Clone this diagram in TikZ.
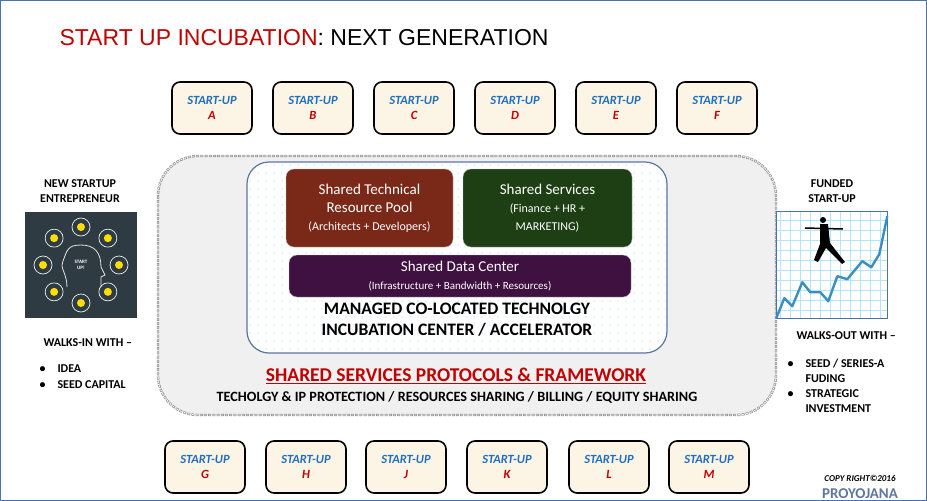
\documentclass[tikz,border=0pt]{standalone}
\usepackage{fontspec}
\setmainfont{Carlito}
\newfontfamily\arialf{Liberation Sans}
\definecolor{sblue}{HTML}{1F6FC0}
\definecolor{sred}{HTML}{C00000}
\definecolor{cream}{HTML}{FCF4E4}
\definecolor{brownb}{HTML}{7A2817}
\definecolor{greenb}{HTML}{1D3F13}
\definecolor{purpb}{HTML}{3E1141}
\definecolor{frameb}{HTML}{4A72B0}
\definecolor{chalk}{HTML}{2F3B42}
\begin{document}
\begin{tikzpicture}[x=1pt,y=-1pt,
  su/.style={draw=black,line width=1.6pt,rounded corners=8pt,fill=cream,minimum width=80pt,minimum height=52pt,align=center,font=\bfseries\itshape\fontsize{12.5}{14}\selectfont},
  svc/.style={draw=gray!60,rounded corners=8pt,text=white,align=center,font=\fontsize{15}{18}\selectfont,inner sep=0pt},
  lbl/.style={font=\bfseries\fontsize{12}{15}\selectfont,align=center},
  ]
\useasboundingbox (0,0) rectangle (927,501);
\draw[frameb,line width=1.2pt] (0.6,0.6) rectangle (926.4,500.4);
\node[anchor=base west,font=\arialf\fontsize{23}{26}\selectfont] (title) at (56,45) {\textcolor{sred}{START UP INCUBATION}: NEXT GENERATION};
% startups
\foreach \n/\x/\l in {a/212/A,b/313/B,c/414/C,d/515/D,e/616/E,f/717/F}{
  \node[su] (s\n) at (\x,108) {\textcolor{sblue}{START-UP}\\[1pt]\textcolor{sred}{\l}};}
\foreach \n/\x/\l in {g/205/G,h/306/H,j/406/J,k/507/K,l/609/L,m/709/M}{
  \node[su] (s\n) at (\x,467) {\textcolor{sblue}{START-UP}\\[1pt]\textcolor{sred}{\l}};}
% outer container
\path[fill=gray!12,rounded corners=40pt] (158,156) rectangle (776,415);
\draw[gray!85,line width=2.4pt,dash pattern=on 3pt off 1.2pt,rounded corners=40pt] (158,156) rectangle (776,415);
\draw[white,line width=0.9pt,dash pattern=on 1.8pt off 2.4pt,dash phase=-0.6pt,rounded corners=40pt] (158,156) rectangle (776,415);
% inner
\path[fill=white,rounded corners=22pt] (247,162) rectangle (667,353);
\begin{scope}
\clip[rounded corners=22pt] (247,162) rectangle (667,353);
\foreach \i in {0,...,52}{\foreach \j in {0,...,24}{
  \fill[cyan!45] (250+\i*8,165+\j*8) circle (0.7);}}
\end{scope}
\draw[draw=frameb!70!gray,line width=1.2pt,rounded corners=22pt] (247,162) rectangle (667,353);
\node[svc,fill=brownb,minimum width=167pt,minimum height=78pt] (pool) at (369.5,208) {Shared Technical\\Resource Pool\\{\fontsize{12}{15}\selectfont(Architects + Developers)}};
\node[svc,fill=greenb,minimum width=169pt,minimum height=78pt] (serv) at (547.5,208) {Shared Services\\{\fontsize{12}{15}\selectfont(Finance + HR +}\\{\fontsize{12}{15}\selectfont MARKETING)}};
\node[svc,fill=purpb,minimum width=342pt,minimum height=42pt] (dc) at (460,276) {Shared Data Center\\{\fontsize{11}{14}\selectfont(Infrastructure + Bandwidth + Resources)}};
\node[font=\bfseries\fontsize{17.5}{21}\selectfont,align=center] (mgd) at (457,320) {MANAGED CO-LOCATED TECHNOLGY\\INCUBATION CENTER / ACCELERATOR};
\node[font=\bfseries\fontsize{19.5}{22}\selectfont,text=sred] (ssp) at (456,376) {\underline{SHARED SERVICES PROTOCOLS \& FRAMEWORK}};
\node[font=\bfseries\fontsize{14.2}{16}\selectfont] (tech) at (457,397) {TECHOLGY \& IP PROTECTION / RESOURCES SHARING / BILLING / EQUITY SHARING};
% left
\node[lbl] (nse) at (80,191) {NEW STARTUP\\ENTREPRENEUR};
\node[fill=chalk,minimum width=112pt,minimum height=106pt,inner sep=0pt] (img1) at (81,265) {};
\draw[white!80!gray,line width=0.8pt] (img1.center) ++(-14,22) .. controls +(0,-14) and +(-4,6) .. ++(-4,-26) .. controls +(4,-10) and +(-14,0) .. ++(18,-16) .. controls +(14,0) and +(0,-14) .. ++(20,22) -- ++(4,8) -- ++(-4,2) -- ++(0,10);
\node[white,font=\bfseries\fontsize{5}{6}\selectfont,align=center] at (img1.center) {START\\UP!};
\foreach \a in {90,135,180,225,270,315,0,45}{
  \draw[white!85!gray,line width=0.7pt] (img1.center) ++(\a:38) circle (9);
  \fill[yellow!80!orange] (img1.center) ++(\a:38) circle (4);}
\node[lbl,anchor=base west] (wi) at (40,346) {WALKS-IN WITH --};
\node[lbl,anchor=base west,align=left] (wil) at (36,372) {\textbullet\hspace{12pt}IDEA};
\node[lbl,anchor=base west,align=left] (wil2) at (36,388) {\textbullet\hspace{12pt}SEED CAPITAL};
% right
\node[lbl] (fs) at (832,191) {FUNDED\\START-UP};
\node[fill=white,minimum width=111pt,minimum height=106pt,inner sep=0pt] (img2) at (832,265) {};
\draw[cyan!30,line width=0.5pt] (img2.south west) grid[step=10pt] (img2.north east);
\draw[frameb,line width=1pt] (img2.south west) rectangle (img2.north east);
\draw[frameb!80!cyan,line width=2.4pt,line join=round] (img2.south west) -- ++(8,-20) -- ++(8,8) -- ++(10,-24) -- ++(8,10) -- ++(10,0) -- ++(8,9) -- ++(9,-25) -- ++(10,3) -- ++(15,-18) -- ++(9,6) -- ++(8,-13) -- ++(8,-38);
\fill[black] (823,220) circle (3);
\fill[black] (820,224) -- (828,224) -- (830,243) -- (845,262) -- (842,264) -- (826,248) -- (818,262) -- (814,260) -- (820,244) -- cycle;
\draw[black,line width=1.5pt] (805,228) -- (843,229);
\node[lbl,anchor=base west] (wo) at (793,339) {WALKS-OUT WITH --};
\node[lbl,anchor=base west,align=left] (wol) at (784,367) {\textbullet\hspace{12pt}SEED / SERIES-A};
\node[lbl,anchor=base west] (wol2) at (802,382) {FUDING};
\node[lbl,anchor=base west] (wol3) at (784,397) {\textbullet\hspace{12pt}STRATEGIC};
\node[lbl,anchor=base west] (wol4) at (802,412) {INVESTMENT};
\node[font=\bfseries\itshape\fontsize{9}{10}\selectfont] (cr) at (860,478) {COPY RIGHT\textcopyright2016};
\node[font=\bfseries\fontsize{15}{16}\selectfont,text=frameb!60!gray] (pro) at (860,494) {PROYOJANA};
\end{tikzpicture}
\end{document}
